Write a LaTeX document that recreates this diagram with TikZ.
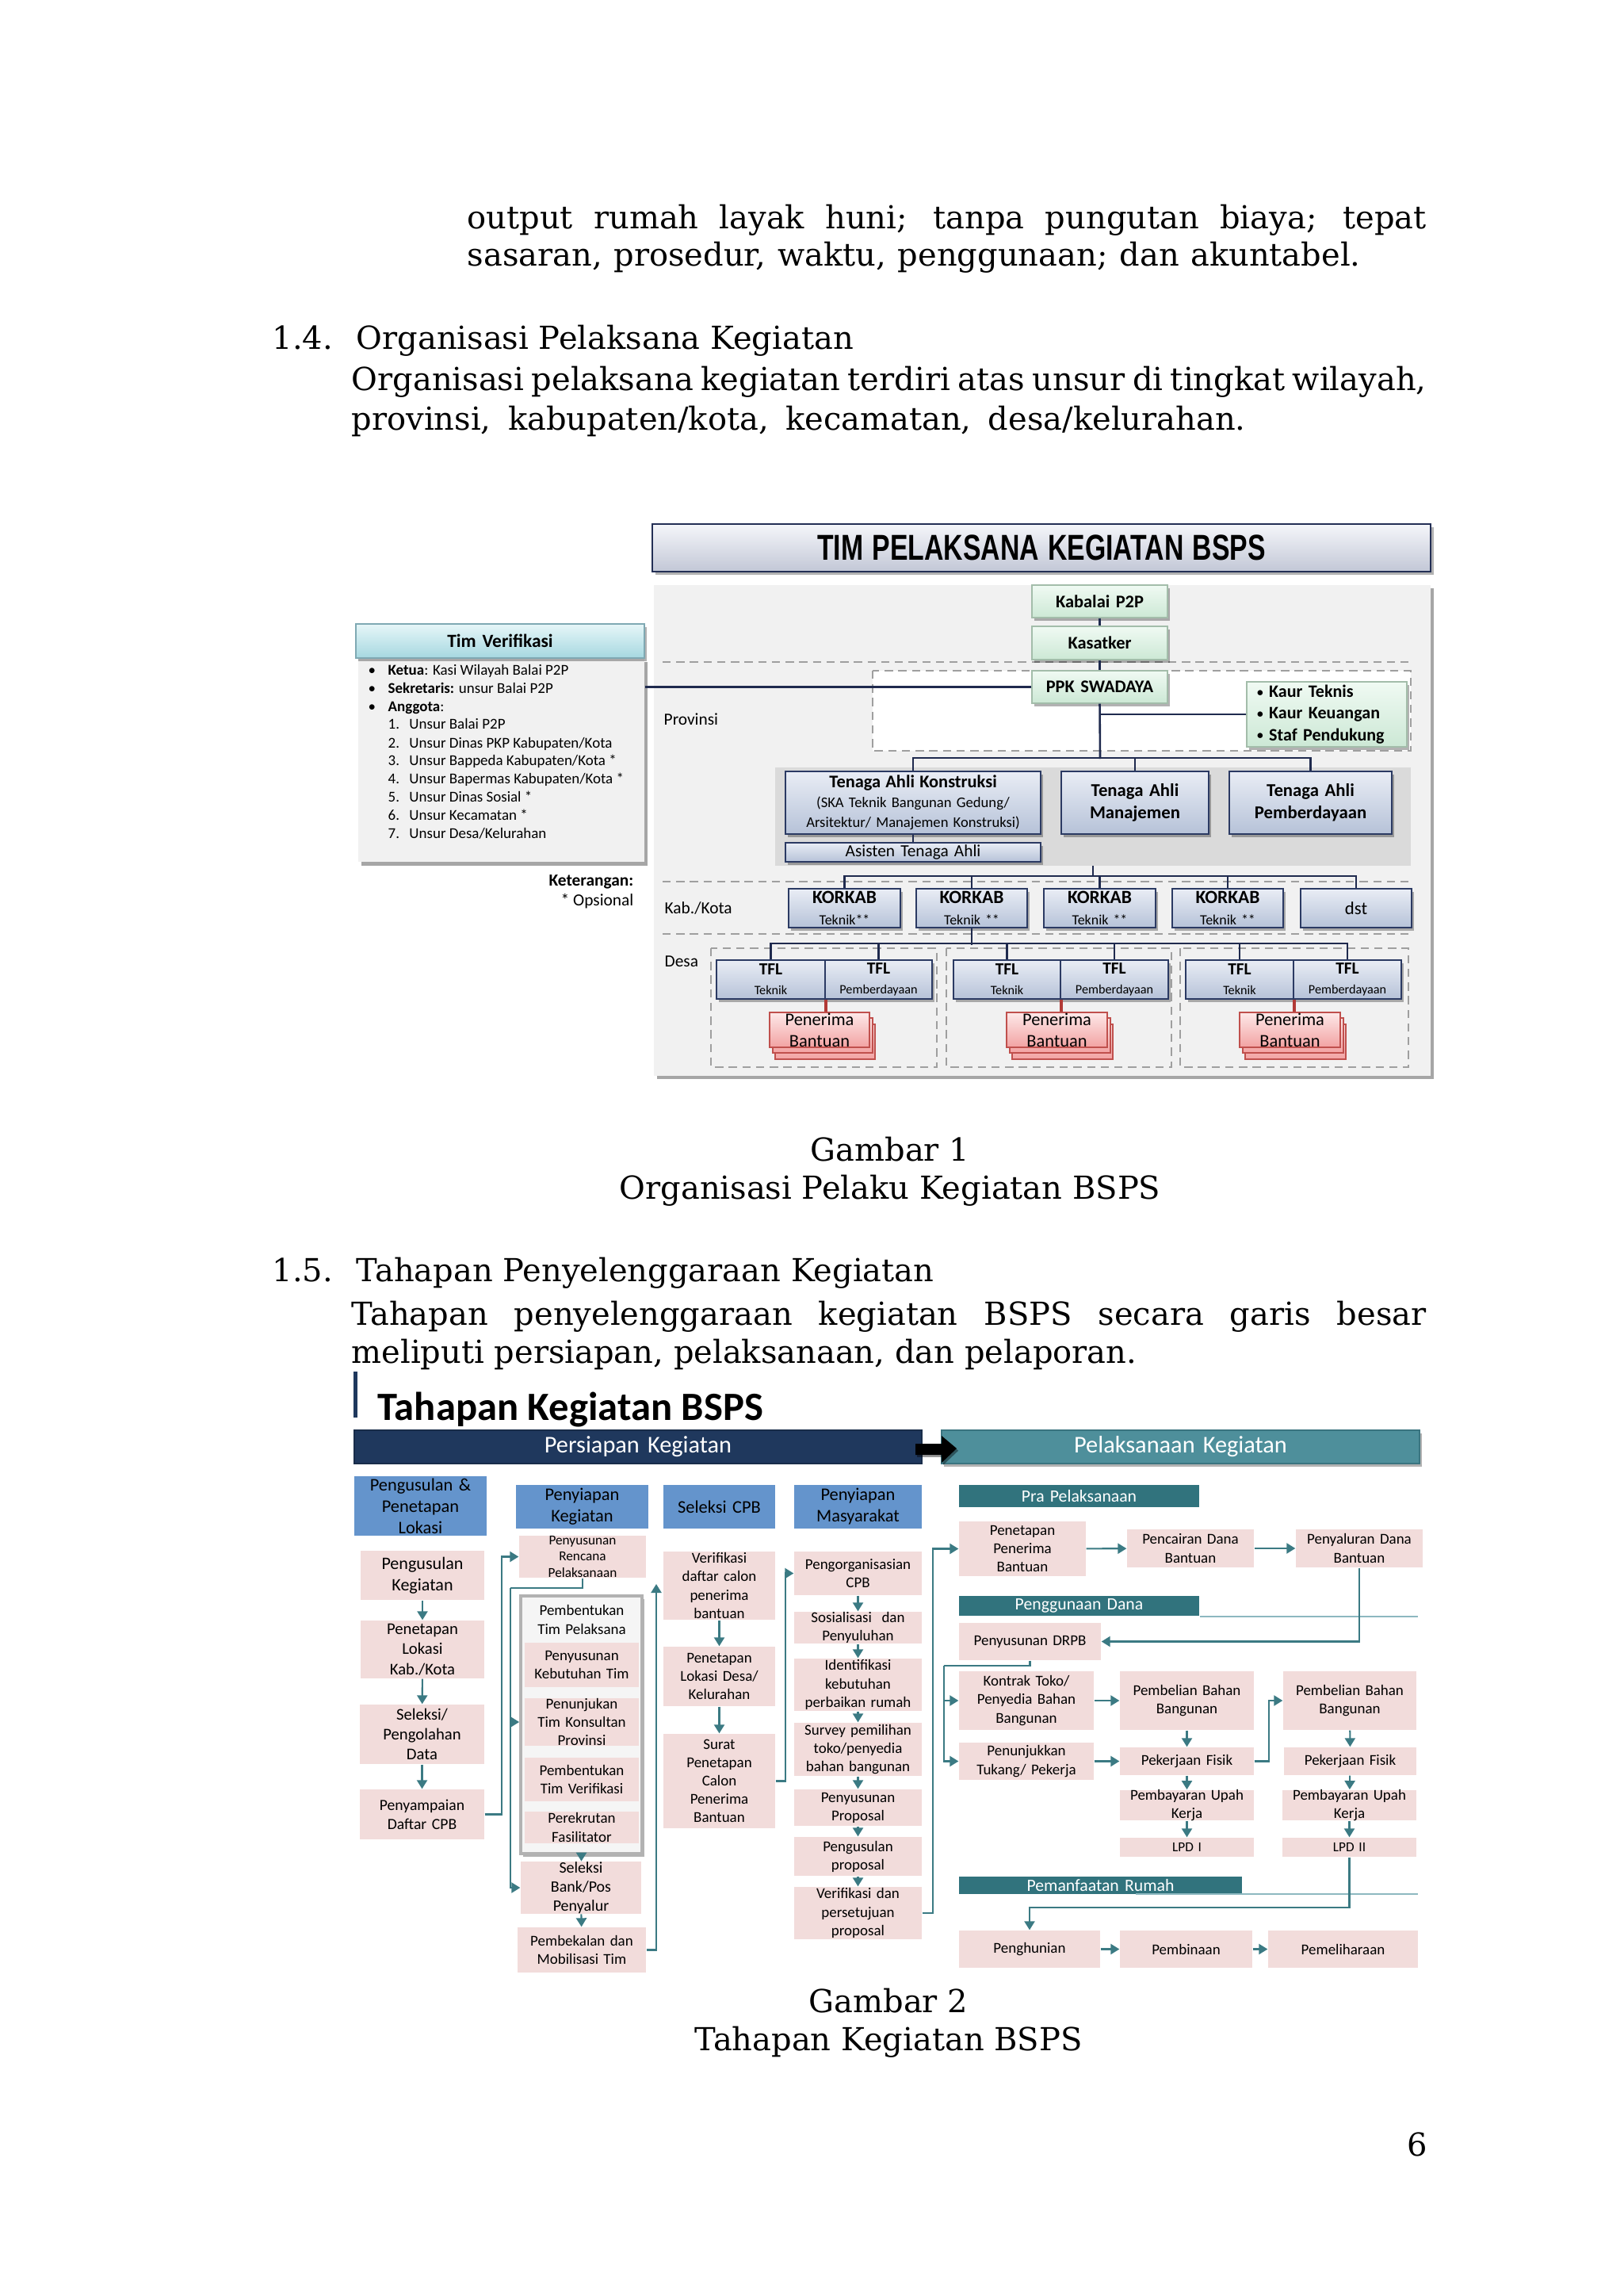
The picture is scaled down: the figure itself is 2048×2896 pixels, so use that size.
\documentclass[tikz,border=0pt]{standalone}
\usepackage{fontspec}
\setmainfont{DejaVu Serif}
\newfontfamily\carl{Carlito}
\newfontfamily\lsans{Liberation Sans}
\usetikzlibrary{arrows.meta,shadows}
\newcommand{\fsz}[2]{\fontsize{#1}{#2}\selectfont}
\newcommand{\smbul}{\raisebox{0.4pt}{\scalebox{0.7}{\textbullet}}}
\definecolor{navyline}{HTML}{1F2A4E}
\definecolor{btop}{HTML}{E9EDF5}\definecolor{bbot}{HTML}{B6C2D8}\definecolor{bdraw}{HTML}{2B3A63}
\definecolor{gtop}{HTML}{F0FAF3}\definecolor{gbot}{HTML}{CCE8D5}\definecolor{gdraw}{HTML}{A3BDAA}
\definecolor{ptop}{HTML}{FDE9E9}\definecolor{pbot}{HTML}{F2A2A2}\definecolor{pdraw}{HTML}{C0504D}
\definecolor{ctop}{HTML}{E6F6F8}\definecolor{cbot}{HTML}{A6D8E0}\definecolor{cdraw}{HTML}{7FA9B3}
\definecolor{panelc}{HTML}{F1F1F1}\definecolor{bandc}{HTML}{DADADA}
\definecolor{ttop}{HTML}{F5F6FA}\definecolor{tbot}{HTML}{C2C7D6}\definecolor{tdraw}{HTML}{232F55}
\definecolor{barone}{HTML}{1F385D}\definecolor{bartwo}{HTML}{4E8F9B}\definecolor{bartwod}{HTML}{3A7480}
\definecolor{headblue}{HTML}{6494CC}\definecolor{pinkbox}{HTML}{F2DCDB}
\definecolor{tealdark}{HTML}{31737D}\definecolor{tealline}{HTML}{3B7A83}\definecolor{teallight}{HTML}{8DB8C0}
\definecolor{redline}{HTML}{B23A36}
\newcommand{\mybox}[7]{%
  \pgfmathsetmacro{\mbw}{(#4-#2)*0.29}%
  \pgfmathsetmacro{\mbh}{(#5-#3)*0.29}%
  \pgfmathsetmacro{\mbtw}{max((#4-#2)*0.29-3,1)}%
  \pgfmathsetmacro{\mbx}{(#2+#4)/2}%
  \pgfmathsetmacro{\mby}{(#3+#5)/2}%
  \node[align=center, inner xsep=1.5pt, inner ysep=0pt, minimum width=\mbw pt, minimum height=\mbh pt, text width=\mbtw pt, #6] (#1) at (\mbx,\mby) {#7};}
\tikzset{
  bodytxt/.style={anchor=base west, inner sep=0pt, font=\fsz{11.6}{14}},
  bodyc/.style={anchor=base, inner sep=0pt, font=\fsz{11.6}{14}},
  shad/.style={drop shadow={shadow xshift=0.9pt,shadow yshift=-1.1pt,opacity=0.3,fill=black}},
  cn/.style={draw=navyline, line width=0.75pt},
  rcn/.style={draw=redline, line width=1.1pt},
  dline/.style={draw=gray!75, densely dashed, line width=0.4pt},
  bbox/.style={draw=bdraw, line width=0.6pt, top color=btop, bottom color=bbot, shad, font=\carl\fsz{6.5}{7.8}},
  gbox/.style={draw=gdraw, line width=0.4pt, top color=gtop, bottom color=gbot, shad, font=\carl\bfseries\fsz{6.5}{7.8}},
  pcard/.style={draw=pdraw, line width=0.5pt, top color=ptop, bottom color=pbot, font=\carl\fsz{6.5}{7.9}},
  lbl/.style={anchor=base west, inner sep=0pt, font=\carl\fsz{6.2}{7.5}},
  tvtxt/.style={anchor=base west, inner sep=0pt, font=\carl\fsz{5.5}{6.6}},
  hdr/.style={fill=headblue, font=\carl\fsz{6.5}{7.8}},
  pk/.style={fill=pinkbox, font=\carl\fsz{5.5}{6.7}},
  tbar/.style={fill=tealdark, text=white, font=\carl\fsz{6.3}{7.5}},
  tl/.style={draw=tealline, line width=0.6pt},
  tla/.style={tl, -{Triangle[length=3.2pt,width=3.8pt]}},
}
\begin{document}
\begin{tikzpicture}[x=0.29pt,y=-0.29pt]
\useasboundingbox (0,0) rectangle (2048,2896);
\fill[white] (0,0) rectangle (2048,2896);

% ---------------- body text ----------------
\node[bodytxt] (p1) at (589,289) {\makebox[350.9pt][s]{output rumah layak huni; tanpa pungutan biaya; tepat}};
\node[bodytxt] (p2) at (589,336) {\makebox[326.8pt][s]{sasaran, prosedur, waktu, penggunaan; dan akuntabel.}};
\node[bodytxt] (h14n) at (343,441) {1.4.};
\node[bodytxt] (h14) at (449,441) {Organisasi Pelaksana Kegiatan};
\node[bodytxt] (p3) at (443,493) {\makebox[393.2pt][s]{Organisasi pelaksana kegiatan terdiri atas unsur di tingkat wilayah,}};
\node[bodytxt] (p4) at (443,543) {\makebox[327.1pt][s]{provinsi, kabupaten/kota, kecamatan, desa/kelurahan.}};
\node[bodyc] (g1a) at (1123,1464) {Gambar 1};
\node[bodyc] (g1b) at (1123,1512) {Organisasi Pelaku Kegiatan BSPS};
\node[bodytxt] (h15n) at (343,1616) {1.5.};
\node[bodytxt] (h15) at (449,1616) {Tahapan Penyelenggaraan Kegiatan};
\node[bodytxt] (p5) at (443,1671) {\makebox[393.2pt][s]{Tahapan penyelenggaraan kegiatan BSPS secara garis besar}};
\node[bodytxt] (p6) at (443,1719) {meliputi persiapan, pelaksanaan, dan pelaporan.};
\node[bodyc] (g2a) at (1121,2538) {Gambar 2};
\node[bodyc] (g2b) at (1121,2586) {Tahapan Kegiatan BSPS};
\node[bodyc] (pgno) at (1788,2719) {6};

% ---------------- Gambar 1 ----------------
\path[fill=panelc, drop shadow={shadow xshift=1.2pt,shadow yshift=-1.2pt,opacity=0.35,fill=black}] (825,738) rectangle (1805,1357);
\mybox{title}{823}{661}{1805}{721}{draw=tdraw, line width=0.8pt, top color=ttop, bottom color=tbot, drop shadow={shadow xshift=1.2pt,shadow yshift=-1.2pt,opacity=0.3,fill=black}}{\resizebox{164pt}{9.2pt}{\lsans\bfseries TIM PELAKSANA KEGIATAN BSPS}}
\draw[dline] (836,835) -- (1777,835);
\draw[dline] (836,1112) -- (1777,1112);
\draw[dline] (836,1178) -- (1777,1178);
\path[fill=white, dline] (1101,846) rectangle (1780,947);
\fill[bandc] (978,968) rectangle (1780,1092);
\path[dline] (897,1196) rectangle (1182,1346);
\path[dline] (1194,1196) rectangle (1478,1346);
\path[dline] (1489,1196) rectangle (1777,1346);

\node[lbl] (lprov) at (837,914) {Provinsi};
\node[lbl] (lkab) at (838,1152) {Kab./Kota};
\node[lbl] (ldesa) at (838,1219) {Desa};

% Tim Verifikasi
\mybox{tvb}{452}{830}{813}{1087}{fill=panelc, drop shadow={shadow xshift=1.2pt,shadow yshift=-1.5pt,opacity=0.35,fill=black}}{}
\mybox{tvh}{449}{787}{813}{830}{draw=cdraw, line width=0.5pt, top color=ctop, bottom color=cbot, shad, font=\carl\bfseries\fsz{6.8}{8}}{Tim Verifikasi}
\node[tvtxt] (b1) at (464,851) {\textbullet};
\node[tvtxt] (b2) at (464,874) {\textbullet};
\node[tvtxt] (b3) at (464,897) {\textbullet};
\node[tvtxt] (tv1) at (489,851) {\textbf{Ketua}: Kasi Wilayah Balai P2P};
\node[tvtxt] (tv2) at (489,874) {\textbf{Sekretaris:} unsur Balai P2P};
\node[tvtxt] (tv3) at (489,897) {\textbf{Anggota}:};
\node[tvtxt] (tv4) at (489,919) {1.\hspace{3.6pt}Unsur Balai P2P};
\node[tvtxt] (tv5) at (489,943) {2.\hspace{3.6pt}Unsur Dinas PKP Kabupaten/Kota};
\node[tvtxt] (tv6) at (489,965) {3.\hspace{3.6pt}Unsur Bappeda Kabupaten/Kota *};
\node[tvtxt] (tv7) at (489,988) {4.\hspace{3.6pt}Unsur Bapermas Kabupaten/Kota *};
\node[tvtxt] (tv8) at (489,1011) {5.\hspace{3.6pt}Unsur Dinas Sosial *};
\node[tvtxt] (tv9) at (489,1034) {6.\hspace{3.6pt}Unsur Kecamatan *};
\node[tvtxt] (tv10) at (489,1057) {7.\hspace{3.6pt}Unsur Desa/Kelurahan};
\node[anchor=base east, inner sep=0pt, font=\carl\bfseries\fsz{6.2}{7.5}] (ket) at (800,1117) {Keterangan:};
\node[anchor=base east, inner sep=0pt, font=\carl\fsz{6.2}{7.5}] (ops) at (800,1142) {* Opsional};

% top chain
\mybox{kab}{1302}{738}{1473}{779}{gbox}{Kabalai P2P}
\mybox{kas}{1302}{790}{1473}{832}{gbox}{Kasatker}
\mybox{ppk}{1302}{846}{1473}{887}{gbox}{PPK SWADAYA}
\mybox{kaur}{1573}{860}{1775}{942}{gbox, align=left, font=\carl\bfseries\fsz{6.4}{7.9}}{\hspace*{2.3pt}\smbul\ Kaur Teknis\\\hspace*{2.3pt}\smbul\ Kaur Keuangan\\\hspace*{2.3pt}\smbul\ Staf Pendukung}
\coordinate (tah) at (1388,957);
\draw[cn] (kab) -- (kas);
\draw[cn] (kas) -- (ppk);
\draw[cn] (ppk.south) -- (tah);
\draw[cn] (kaur.west) -- (kaur.west -| ppk.south);
\draw[cn] (ppk.west) -- (ppk.west -| tvb.east);

\mybox{tak}{991}{973}{1313}{1052}{bbox, font=\carl\fsz{5.4}{7.3}}{{\fsz{6.5}{7.3}\bfseries Tenaga Ahli Konstruksi}\\(SKA Teknik Bangunan Gedung/\\Arsitektur/ Manajemen Konstruksi)}
\mybox{ast}{991}{1063}{1313}{1087}{bbox, font=\carl\fsz{6.2}{7.3}}{Asisten Tenaga Ahli}
\mybox{tam}{1339}{973}{1525}{1052}{bbox, font=\carl\bfseries\fsz{6.6}{8}}{Tenaga Ahli\\Manajemen}
\mybox{tap}{1551}{973}{1756}{1052}{bbox, font=\carl\bfseries\fsz{6.6}{8}}{Tenaga Ahli\\Pemberdayaan}
\draw[cn] (tak.north) -- ++(0,-16) -| (tap.north);
\draw[cn] (tam.north) -- (tam.north |- tah);
\draw[cn] (tak) -- (ast);

% KORKAB
\mybox{k1}{995}{1121}{1136}{1170}{bbox, font=\carl\fsz{5.2}{7.8}}{{\fsz{6.8}{7.8}\bfseries KORKAB}\\Teknik**}
\mybox{k2}{1156}{1121}{1296}{1170}{bbox, font=\carl\fsz{5.2}{7.8}}{{\fsz{6.8}{7.8}\bfseries KORKAB}\\Teknik **}
\mybox{k3}{1317}{1121}{1458}{1170}{bbox, font=\carl\fsz{5.2}{7.8}}{{\fsz{6.8}{7.8}\bfseries KORKAB}\\Teknik **}
\mybox{k4}{1479}{1121}{1619}{1170}{bbox, font=\carl\fsz{5.2}{7.8}}{{\fsz{6.8}{7.8}\bfseries KORKAB}\\Teknik **}
\mybox{k5}{1641}{1121}{1781}{1170}{bbox, font=\carl\fsz{6.6}{7.8}}{dst}
\coordinate (kt) at (1379,1092);
\draw[cn] (kt) -- ++(0,14);
\draw[cn] (k1.north) -- ++(0,-15) -| (k5.north);
\draw[cn] (k2.north) -- ++(0,-15);
\draw[cn] (k3.north) -- ++(0,-15);
\draw[cn] (k4.north) -- ++(0,-15);

% TFL
\mybox{t1a}{904}{1211}{1041}{1260}{bbox, font=\carl\fsz{4.7}{7.3}}{{\fsz{6.2}{7.3}\bfseries TFL}\\Teknik}
\mybox{t1b}{1041}{1211}{1176}{1260}{bbox, font=\carl\fsz{4.7}{7.3}}{{\fsz{6.2}{7.3}\bfseries TFL}\\Pemberdayaan}
\mybox{t2a}{1203}{1211}{1338}{1260}{bbox, font=\carl\fsz{4.7}{7.3}}{{\fsz{6.2}{7.3}\bfseries TFL}\\Teknik}
\mybox{t2b}{1338}{1211}{1474}{1260}{bbox, font=\carl\fsz{4.7}{7.3}}{{\fsz{6.2}{7.3}\bfseries TFL}\\Pemberdayaan}
\mybox{t3a}{1496}{1211}{1632}{1260}{bbox, font=\carl\fsz{4.7}{7.3}}{{\fsz{6.2}{7.3}\bfseries TFL}\\Teknik}
\mybox{t3b}{1632}{1211}{1768}{1260}{bbox, font=\carl\fsz{4.7}{7.3}}{{\fsz{6.2}{7.3}\bfseries TFL}\\Pemberdayaan}
\draw[cn] (k2.south) -- ++(0,21);
\draw[cn] (t1a.north) -- ++(0,-20) -| (t3b.north);
\draw[cn] (t1b.north) -- ++(0,-20);
\draw[cn] (t2a.north) -- ++(0,-20);
\draw[cn] (t2b.north) -- ++(0,-20);
\draw[cn] (t3a.north) -- ++(0,-20);

% Penerima Bantuan cards
\path[pcard] (978,1292) rectangle (1104,1336);
\path[pcard] (975,1284) rectangle (1101,1328);
\mybox{pb1}{971}{1277}{1097}{1321}{pcard}{Penerima\\Bantuan}
\path[pcard] (1277,1292) rectangle (1404,1336);
\path[pcard] (1274,1284) rectangle (1401,1328);
\mybox{pb2}{1270}{1277}{1397}{1321}{pcard}{Penerima\\Bantuan}
\path[pcard] (1571,1292) rectangle (1698,1336);
\path[pcard] (1568,1284) rectangle (1695,1328);
\mybox{pb3}{1564}{1277}{1691}{1321}{pcard}{Penerima\\Bantuan}
\draw[rcn] (t1a.south east) -- (t1a.south east |- pb1.north);
\draw[rcn] (t2a.south east) -- (t2a.south east |- pb2.north);
\draw[rcn] (t3a.south east) -- (t3a.south east |- pb3.north);

% ---------------- Gambar 2 ----------------
\fill[barone] (446,1730) rectangle (451,1788);
\node[anchor=base west, inner sep=0pt] (ttl2) at (476,1791) {\resizebox{141pt}{!}{\carl\bfseries\fsz{14.5}{16}Tahapan Kegiatan BSPS}};
\mybox{bar1}{447}{1804}{1163}{1846}{fill=barone, draw=barone!80!black, line width=0.5pt, text=white, font=\carl\fsz{8.8}{10}}{Persiapan Kegiatan}
\mybox{bar2}{1188}{1804}{1791}{1846}{fill=bartwo, draw=bartwod, line width=0.7pt, text=white, font=\carl\fsz{8.8}{10}, shad}{Pelaksanaan Kegiatan}
\fill[black, drop shadow={shadow xshift=0.6pt,shadow yshift=-0.8pt,opacity=0.4,fill=black}] (1155,1821) -- (1188,1821) -- (1188,1811) -- (1207,1827) -- (1188,1845) -- (1188,1835) -- (1155,1835) -- cycle;

\mybox{h1}{447}{1862}{614}{1937}{hdr}{Pengusulan \&\\Penetapan\\Lokasi}
\mybox{h2}{651}{1873}{818}{1928}{hdr}{Penyiapan\\Kegiatan}
\mybox{h3}{837}{1873}{978}{1928}{hdr}{Seleksi CPB}
\mybox{h4}{1002}{1873}{1163}{1928}{hdr}{Penyiapan\\Masyarakat}

% column 1
\mybox{c1a}{455}{1956}{611}{2018}{pk, font=\carl\fsz{6.4}{7.8}}{Pengusulan\\Kegiatan}
\mybox{c1b}{455}{2044}{611}{2117}{pk, font=\carl\fsz{6}{7.4}}{Penetapan\\Lokasi\\Kab./Kota}
\mybox{c1c}{454}{2150}{611}{2225}{pk, font=\carl\fsz{6}{7.3}}{Seleksi/\\Pengolahan\\Data}
\mybox{c1d}{454}{2257}{611}{2320}{pk, font=\carl\fsz{5.7}{7}}{Penyampaian\\Daftar CPB}
\draw[tla] (c1a) -- (c1b);
\draw[tla] (c1b) -- (c1c);
\draw[tla] (c1c) -- (c1d);

% column 2
\mybox{c2a}{655}{1937}{815}{1990}{pk, font=\carl\fsz{5}{5.9}}{Penyusunan\\Rencana\\Pelaksanaan}
\mybox{grp}{657}{2013}{810}{2338}{fill=gray!8, draw=gray!60, line width=1.1pt, shad}{}
\mybox{g1}{662}{2020}{806}{2066}{font=\carl\fsz{5.5}{6.7}}{Pembentukan\\Tim Pelaksana}
\mybox{g2}{662}{2072}{806}{2128}{pk}{Penyusunan\\Kebutuhan Tim}
\mybox{g3}{662}{2142}{806}{2202}{pk}{Penunjukan\\Tim Konsultan\\Provinsi}
\mybox{g4}{662}{2217}{806}{2272}{pk}{Pembentukan\\Tim Verifikasi}
\mybox{g5}{662}{2285}{806}{2325}{pk}{Perekrutan\\Fasilitator}
\mybox{c2b}{657}{2349}{809}{2413}{pk, font=\carl\fsz{5.8}{7}}{Seleksi\\Bank/Pos\\Penyalur}
\mybox{c2c}{653}{2431}{815}{2488}{pk}{Pembekalan dan\\Mobilisasi Tim}
\draw[tla] (c1d.east) -- ++(21,0) |- (c2a.west);
\coordinate (i2) at (644,2003);
\draw[tl] (c2a.south) |- (i2);
\draw[tla] (i2) |- (c2b.west);
\draw[tla] (i2 |- g3.west) -- (g3.west -| grp.west);
\draw[tla] (grp.south) -- (grp.south |- c2b.north);
\draw[tla] (c2b) -- (c2c);
\coordinate (up2) at (828,1998);
\draw[tla] (c2c.east) -| (up2);

% column 3
\mybox{c3a}{837}{1957}{978}{2043}{pk}{Verifikasi\\daftar calon\\penerima\\bantuan}
\mybox{c3b}{837}{2077}{978}{2152}{pk}{Penetapan\\Lokasi Desa/\\Kelurahan}
\mybox{c3c}{837}{2187}{978}{2306}{pk}{Surat\\Penetapan\\Calon\\Penerima\\Bantuan}
\draw[tla] (c3a) -- (c3b);
\draw[tla] (c3b) -- (c3c);

% column 4
\mybox{c4a}{1002}{1957}{1163}{2012}{pk}{Pengorganisasian\\CPB}
\mybox{c4b}{1002}{2033}{1163}{2073}{pk}{Sosialisasi~ dan\\Penyuluhan}
\mybox{c4c}{1002}{2092}{1163}{2158}{pk}{Identifikasi\\kebutuhan\\perbaikan rumah}
\mybox{c4d}{1002}{2173}{1163}{2240}{pk}{Survey pemilihan\\toko/penyedia\\bahan bangunan}
\mybox{c4e}{1002}{2257}{1163}{2303}{pk}{Penyusunan\\Proposal}
\mybox{c4f}{1002}{2317}{1163}{2366}{pk}{Pengusulan\\proposal}
\mybox{c4g}{1002}{2380}{1163}{2446}{pk}{Verifikasi dan\\persetujuan\\proposal}
\draw[tla] (c3c.east) -- ++(12,0) |- (c4a.west);
\draw[tla] (c4a) -- (c4b);
\draw[tla] (c4b) -- (c4c);
\draw[tla] (c4c) -- (c4d);
\draw[tla] (c4d) -- (c4e);
\draw[tla] (c4e) -- (c4f);
\draw[tla] (c4f) -- (c4g);

% right part
\mybox{pra}{1210}{1873}{1513}{1901}{tbar}{Pra Pelaksanaan}
\mybox{r1}{1210}{1919}{1370}{1988}{pk}{Penetapan\\Penerima\\Bantuan}
\mybox{r2}{1422}{1929}{1582}{1977}{pk}{Pencairan Dana\\Bantuan}
\mybox{r3}{1635}{1929}{1795}{1977}{pk}{Penyaluran Dana\\Bantuan}
\draw[tla] (c4g.east) -- ++(13,0) |- (r1.west);
\draw[tla] (r1) -- (r2);
\draw[tla] (r2) -- (r3);
\mybox{peng}{1210}{2013}{1513}{2038}{tbar}{Penggunaan Dana}
\draw[teallight, line width=0.6pt] (peng.south east) -- ++(275,0) coordinate (pengend);
\mybox{r4}{1210}{2047}{1389}{2094}{pk}{Penyusunan DRPB}
\draw[tla] (r3.south) |- (r4.east);
\mybox{r5}{1210}{2108}{1380}{2182}{pk}{Kontrak Toko/\\Penyedia Bahan\\Bangunan}
\mybox{r6}{1413}{2108}{1582}{2182}{pk}{Pembelian Bahan\\Bangunan}
\mybox{r7}{1619}{2108}{1787}{2182}{pk}{Pembelian Bahan\\Bangunan}
\mybox{r8}{1210}{2198}{1380}{2245}{pk}{Penunjukkan\\Tukang/ Pekerja}
\mybox{r9}{1413}{2204}{1582}{2239}{pk}{Pekerjaan Fisik}
\mybox{r10}{1620}{2204}{1787}{2239}{pk}{Pekerjaan Fisik}
\mybox{r11}{1413}{2258}{1582}{2296}{pk, font=\carl\fsz{5.5}{6.4}}{Pembayaran Upah\\Kerja}
\mybox{r12}{1618}{2258}{1787}{2296}{pk, font=\carl\fsz{5.5}{6.4}}{Pembayaran Upah\\Kerja}
\mybox{r13}{1413}{2318}{1582}{2342}{pk, font=\carl\fsz{5}{6}}{LPD I}
\mybox{r14}{1618}{2318}{1787}{2342}{pk, font=\carl\fsz{5}{6}}{LPD II}
\coordinate (d2) at (1191,2101);
\draw[tl] (r4.south) |- (d2);
\draw[tla] (d2) |- (r8.west);
\draw[tla] (d2 |- r5.west) -- (r5.west);
\draw[tla] (r5) -- (r6);
\draw[tla] (r8) -- (r9);
\draw[tla] (r6) -- (r9);
\draw[tla] (r9) -- (r11);
\draw[tla] (r11) -- (r13);
\draw[tla] (r9.east) -- ++(18,0) |- (r7.west);
\draw[tla] (r7) -- (r10);
\draw[tla] (r10) -- (r12);
\draw[tla] (r12) -- (r14);
\mybox{pem}{1210}{2367}{1567}{2389}{tbar}{Pemanfaatan Rumah}
\draw[teallight, line width=0.6pt] (1433,2389) -- (1789,2389) coordinate (pemend);
\mybox{r15}{1210}{2435}{1388}{2482}{pk}{Penghunian}
\mybox{r16}{1413}{2435}{1580}{2482}{pk}{Pembinaan}
\mybox{r17}{1600}{2435}{1789}{2482}{pk}{Pemeliharaan}
\draw[tla] (r14.south) -- ++(0,63) -| (r15.north);
\draw[tla] (r15) -- (r16);
\draw[tla] (r16) -- (r17);
\end{tikzpicture}
\end{document}
